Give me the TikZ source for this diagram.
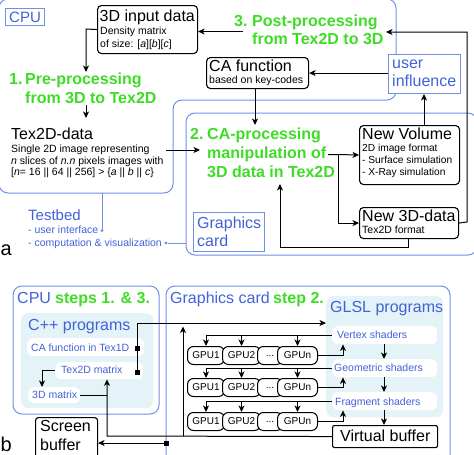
\documentclass[tikz,border=0pt]{standalone}
\usepackage{fontspec}
\setmainfont{Liberation Sans}
\usetikzlibrary{arrows.meta}
\definecolor{bluet}{HTML}{4262D8}
\definecolor{bluel}{HTML}{7090E8}
\definecolor{ggreen}{HTML}{3EDC26}
\definecolor{cyanp}{HTML}{E3F3F8}
\begin{document}
\begin{tikzpicture}[x=1pt,y=-1pt,
 >={Stealth[length=6.5pt,width=6pt,inset=1.8pt]},
 big/.style={inner sep=0pt, anchor=base west, font=\fontsize{16}{19}\selectfont},
 bigb/.style={big, text=bluet},
 sml/.style={inner sep=0pt, anchor=base west, font=\fontsize{10.5}{12.5}\selectfont},
 smlb/.style={sml, text=bluet},
 grn/.style={inner sep=0pt, anchor=base west, font=\fontsize{16}{19}\selectfont\bfseries, text=ggreen},
 blk/.style={draw, line width=1.1pt, rounded corners=4pt, fill=white, inner sep=0pt, anchor=north west},
 bluebox/.style={draw=bluel, line width=1pt, fill=white, inner sep=0pt, anchor=north west},
 region/.style={draw=bluel, line width=1pt, rounded corners=9pt},
 panel/.style={fill=cyanp, rounded corners=7pt, inner sep=0pt, anchor=north west},
 wpanel/.style={fill=white, rounded corners=6pt, inner sep=0pt, anchor=north west},
 gpu/.style={draw, line width=1pt, rounded corners=6pt, fill=white, inner sep=0pt, anchor=north west, minimum height=18pt, font=\fontsize{10}{12}\selectfont},
 conn/.style={line width=1pt},
 port/.style={fill=black, inner sep=0pt, minimum size=5pt},
 bdot/.style={circle, fill=bluel, inner sep=0pt, minimum size=3.2pt},
 lbl/.style={inner sep=0pt, anchor=base west, font=\fontsize{20}{24}\selectfont},
]
\useasboundingbox (0,0) rectangle (474,455);

% ================= part a =================
\draw[region] (-1,193) -- (-1,-1) -- (396,-1) -- (396,100) -- (173,100) -- (173,193) -- cycle;
\draw[region] (186,113) rectangle (477,255);

% testbed connections
\coordinate (tbtop) at (102,193);
\node[bdot] (d1) at (102,230.5) {};
\node[bdot] (d2) at (166,243) {};
\coordinate (gcedge) at (186,243);
\draw[bluel, line width=1pt] (tbtop) -- (d1);
\draw[bluel, line width=1pt] (d2) -- (gcedge);

\node[bluebox, minimum width=39pt, minimum height=17pt] (cpua) at (5,8) {};
\node[bigb, font=\fontsize{15}{18}\selectfont] (cpuat) at (9,22) {CPU};

\node[blk, minimum width=100pt, minimum height=48pt] (in3d) at (97,5) {};
\node[big] (in3dt) at (99.5,21) {3D input data};
\node[sml] (in3ds1) at (100,34.5) {Density matrix};
\node[sml] (in3ds2) at (100,47) {of size: [\textit{a}][\textit{b}][\textit{c}]};

\node[grn] (p1n) at (9,84.5) {1.};
\node[grn] (p1a) at (25,84.5) {Pre-processing};
\node[grn] (p1b) at (25,103.5) {from 3D to Tex2D};

\node[big] (t2d) at (11,139) {Tex2D-data};
\node[sml] (t2d1) at (11,152.3) {Single 2D image representing};
\node[sml] (t2d2) at (11,164) {\textit{n} slices of \textit{n.n} pixels images with};
\node[sml] (t2d3) at (11,175.7) {[\textit{n}= 16 || 64 || 256] > \{\textit{a} || \textit{b} || \textit{c}\}};

\node[grn] (p2n) at (190,139.5) {2.};
\node[grn] (p2a) at (207,139.5) {CA-processing};
\node[grn] (p2b) at (207,158) {manipulation of};
\node[grn] (p2c) at (207,177) {3D data in Tex2D};

\node[blk, minimum width=102pt, minimum height=31pt] (caf) at (206,57) {};
\node[big] (caft) at (209,71.5) {CA function};
\node[sml] (cafs) at (209,83) {based on key-codes};

\node[bluebox, minimum width=72pt, minimum height=39pt] (ui) at (388,54) {};
\node[bigb] (uit1) at (392,68.5) {user};
\node[bigb] (uit2) at (392,86.5) {influence};

\node[grn] (p3n) at (234,26.5) {3.};
\node[grn] (p3a) at (252,26.5) {Post-processing};
\node[grn] (p3b) at (252,44) {from Tex2D to 3D};

\node[blk, minimum width=100pt, minimum height=59pt] (nv) at (359,125) {};
\node[big] (nvt) at (362,139) {New Volume};
\node[sml, font=\fontsize{10.2}{12}\selectfont] (nv1) at (362,151.7) {2D image format};
\node[sml, font=\fontsize{10.2}{12}\selectfont] (nv2) at (362,163.5) {- Surface simulation};
\node[sml, font=\fontsize{10.2}{12}\selectfont] (nv3) at (362,175.5) {- X-Ray simulation};

\node[blk, minimum width=99pt, minimum height=31pt] (n3d) at (359,207) {};
\node[big] (n3dt) at (362,221.7) {New 3D-data};
\node[sml] (n3ds) at (362,233.5) {Tex2D format};

\node[bluebox, minimum width=71pt, minimum height=39pt] (gca) at (193,212) {};
\node[bigb] (gcat1) at (197,228.3) {Graphics};
\node[bigb] (gcat2) at (197,246.7) {card};

\node[bigb, font=\fontsize{15}{18}\selectfont] (tb) at (28,220) {Testbed};
\node[smlb] (tb1) at (28,233.3) {- user interface};
\node[smlb] (tb2) at (28,246) {- computation \& visualization};

\node[lbl] (la) at (0.5,255) {a};

% connectors a
\coordinate (a1) at (86,29);
\coordinate (a1e) at (86,72);
\draw[conn,->] (in3d.west) -- (a1) -- (a1e);
\coordinate (a2s) at (86,105);
\coordinate (a2e) at (86,118);
\draw[conn,->] (a2s) -- (a2e);
\coordinate (a3s) at (166,150);
\coordinate (a3e) at (200,150);
\draw[conn,->] (a3s) -- (a3e);
\coordinate (a4e) at (255,125);
\draw[conn,->] (caf.south -| a4e) -- (a4e);
\draw[conn,->] (ui.west |- caf.east) -- (caf.east);
\coordinate (p3s) at (243,31.5);
\draw[conn,->] (p3s) -- (p3s -| in3d.east);
\coordinate (rx) at (467,222);
\coordinate (rtop) at (467,32);
\coordinate (rend) at (386,32);
\draw[conn,->] (n3d.east) -- (rx) -- (rtop) -- (rend);
\coordinate (ms) at (328,154.5);
\coordinate (mx) at (338,154.5);
\draw[conn,->] (ms) -- (mx) -- (nv.west);
\draw[conn,->] (mx) -- (mx |- n3d.west) -- (n3d.west);
\coordinate (lb1) at (408,247);
\coordinate (lb2) at (280,247);
\coordinate (lb3) at (280,184);
\draw[conn,->] (n3d.south -| lb1) -- (lb1) -- (lb2) -- (lb3);
\coordinate (ux) at (424,0);
\draw[conn,->] (nv.north -| ux) -- (ui.south -| ux);

% ================= part b =================
\draw[region] (13,286) rectangle (159,414);
\node[bigb] (cpub) at (17,303.3) {CPU};
\node[grn] (cpubs) at (55,303.3) {steps 1. \& 3.};
\node[panel, minimum width=132pt, minimum height=95pt] (cpp) at (21,313) {};
\node[bigb] (cppt) at (28,330) {C++ programs};
\node[wpanel, minimum width=117pt, minimum height=18pt] (catex) at (27,338) {};
\node[smlb] (catext) at (31,351.7) {CA function in Tex1D};
\node[wpanel, minimum width=88pt, minimum height=17pt] (t2m) at (55,362) {};
\node[smlb] (t2mt) at (61,373.3) {Tex2D matrix};
\node[wpanel, minimum width=52pt, minimum height=16pt] (t3m) at (28,387) {};
\node[smlb] (t3mt) at (32,398.3) {3D matrix};

\node[blk, rounded corners=3pt, minimum width=62pt, minimum height=45pt] (sb) at (35,417) {};
\node[big] (sbt1) at (40,431.7) {Screen};
\node[big] (sbt2) at (40,450) {buffer};

\draw[region] (166,286) rectangle (450,470);
\node[bigb] (gcb) at (170,303.3) {Graphics card};
\node[grn] (gcbs) at (273,303.3) {step 2.};
\node[panel, minimum width=117pt, minimum height=121pt] (glsl) at (326,296) {};
\node[bigb] (glslt) at (330,312.5) {GLSL programs};
\node[wpanel, minimum width=105pt, minimum height=18pt] (vs) at (332,326) {};
\node[smlb] (vst) at (337,338.3) {Vertex shaders};
\node[wpanel, minimum width=105pt, minimum height=18pt] (gs) at (332,359) {};
\node[smlb] (gst) at (334,371.7) {Geometric shaders};
\node[wpanel, minimum width=105pt, minimum height=18pt] (fs) at (332,392) {};
\node[smlb] (fst) at (335,405) {Fragment shaders};
\node[blk, rounded corners=2pt, minimum width=105pt, minimum height=22pt] (vb) at (332,425) {};
\node[big] (vbt) at (340,441.7) {Virtual buffer};

\foreach \r/\y in {1/346,2/378,3/412} {
  \node[gpu, minimum width=37pt] (g\r-1) at (187,\y) {GPU1};
  \node[gpu, minimum width=38pt] (g\r-2) at (222,\y) {GPU2};
  \node[gpu, minimum width=25pt] (g\r-d) at (257,\y) {...};
  \node[gpu, minimum width=40pt] (g\r-n) at (277,\y) {GPUn};
}
\coordinate (rxs) at (343,0);
\foreach \r/\s in {1/vs,2/gs,3/fs} {
  \draw[conn] (\s.west) -- (\s.west -| g\r-1.north);
  \draw[conn,->] (\s.west -| g\r-1.north) -- (g\r-1.north);
  \draw[conn,->] (\s.west -| g\r-2.north) -- (g\r-2.north);
  \draw[conn,->] (\s.west -| g\r-n.north) -- (g\r-n.north);
  \draw[conn,->] (g\r-n.east) -- (g\r-n.east -| rxs) -- (\s.south -| rxs);
}
\coordinate (sx) at (384,0);
\draw[conn,->] (vs.south -| sx) -- (gs.north -| sx);
\draw[conn,->] (gs.south -| sx) -- (fs.north -| sx);
\draw[conn,->] (fs.south -| sx) -- (vb.north -| sx);

% CPU to GLSL
\coordinate (m1) at (137,348);
\coordinate (m2) at (137,372);
\coordinate (tl) at (137,323);
\draw[conn] (m2) -- (m1);
\draw[conn,->] (m1) -- (tl) -- (tl -| glsl.west);
% virtual buffer back
\coordinate (bl) at (107,436);
\draw[conn,->] (vb.west) -- (bl) -- (t2m.south -| bl);
\coordinate (br) at (183,436);
\coordinate (brt) at (183,326.5);
\draw[conn,->] (br) -- (brt);
\draw[conn] (t3m.east) -- (t3m.east -| bl);
\coordinate (lx) at (42,0);
\draw[conn,->] (t2m.west) -- (t2m.west -| lx) -- (t3m.north -| lx);
% screen buffer
\coordinate (sp) at (166,443);
\draw[conn,->] (sp) -- (sp -| sb.east);
\node[port] (pm1) at (m1) {};
\node[port] (pm2) at (m2) {};
\node[port] (psp) at (sp) {};

\node[lbl] (lb) at (0.5,451) {b};
\end{tikzpicture}
\end{document}
